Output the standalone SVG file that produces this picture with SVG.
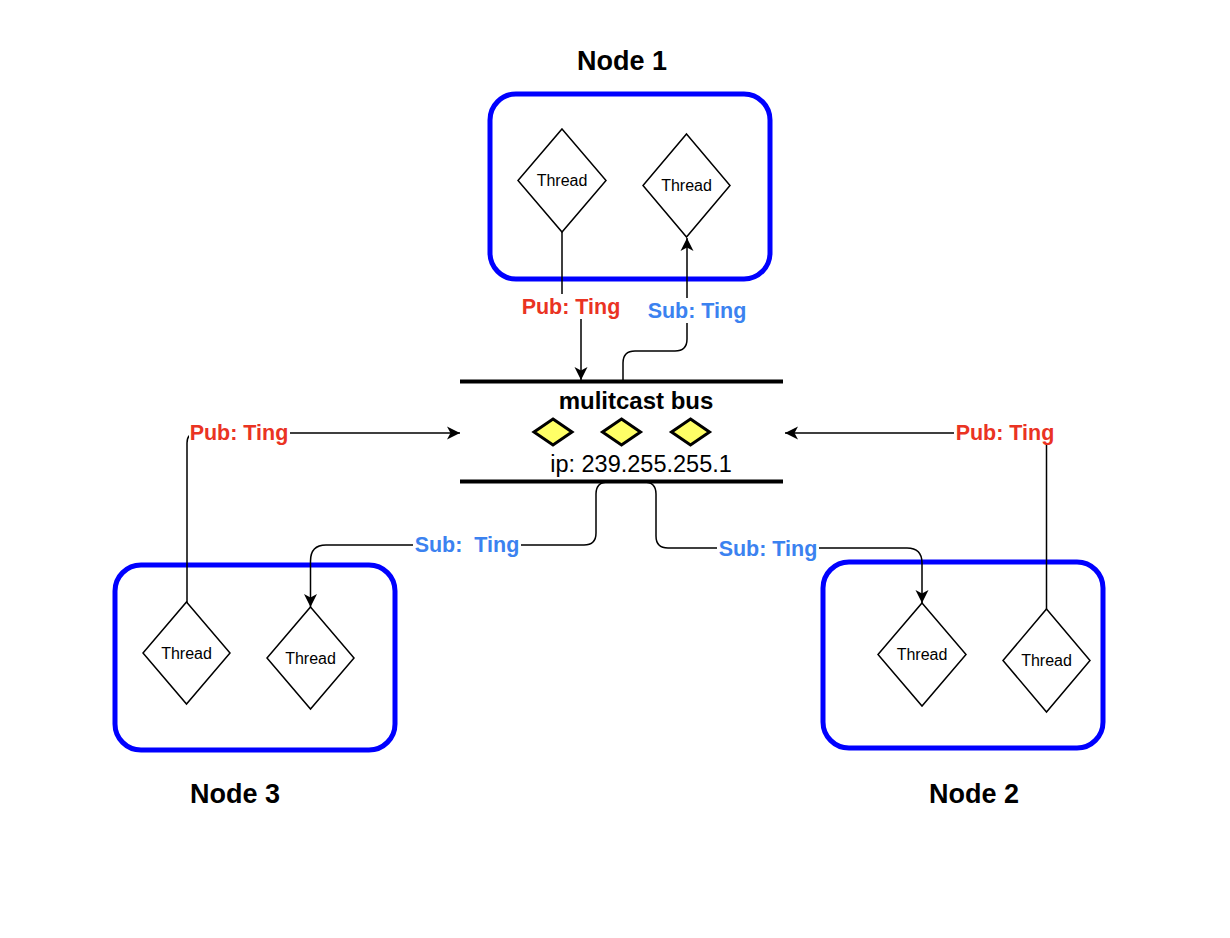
<svg xmlns="http://www.w3.org/2000/svg" width="1230" height="938" viewBox="0 0 1230 938">
<style>
.box{fill:none;stroke:#0000FF;stroke-width:5}
.th{fill:#FFFFFF;stroke:#000;stroke-width:1.5}
.tt{font-family:"Liberation Sans",Arial,sans-serif;font-size:16px;fill:#000;text-anchor:middle}
.title{font-family:"Liberation Sans",Arial,sans-serif;font-size:27px;font-weight:bold;fill:#000;text-anchor:middle}
.edge{fill:none;stroke:#000;stroke-width:1.5}
.lbl{font-family:"Liberation Sans",Arial,sans-serif;font-size:21.5px;font-weight:bold;text-anchor:middle}
.pub{fill:#EA3323}
.sub{fill:#3B82F0}
.bg{fill:#FFFFFF}
.busline{stroke:#000;stroke-width:4}
.pkt{fill:#FFFF66;stroke:#000;stroke-width:3}
</style>
<defs>
<marker id="arr" markerUnits="userSpaceOnUse" viewBox="-14 -8 15 16" refX="0" refY="0" markerWidth="15" markerHeight="16" orient="auto">
<path d="M0,0 L-13,-6.5 L-9.5,0 L-13,6.5 Z" fill="#000"/>
</marker>
</defs>
<rect width="1230" height="938" fill="#FFFFFF"/>

<g id="node1">
<rect class="box" x="490" y="94" width="280" height="185" rx="26"/>
<text class="title" x="622" y="70">Node 1</text>
<g id="node1-thread-a"><polygon class="th" points="562,129 606,180.5 562,232 518,180.5"/><text class="tt" x="562" y="186">Thread</text></g>
<g id="node1-thread-b"><polygon class="th" points="686.5,134 730,185.5 686.5,237 643,185.5"/><text class="tt" x="686.5" y="191">Thread</text></g>
</g>

<g id="node3">
<rect class="box" x="115" y="565" width="280" height="185" rx="26"/>
<text class="title" x="235" y="803">Node 3</text>
<g id="node3-thread-a"><polygon class="th" points="186.5,602 230,653 186.5,704 143,653"/><text class="tt" x="186.5" y="658.5">Thread</text></g>
<g id="node3-thread-b"><polygon class="th" points="310.5,607 354,658 310.5,709 267,658"/><text class="tt" x="310.5" y="663.5">Thread</text></g>
</g>

<g id="node2">
<rect class="box" x="823" y="562" width="280" height="186" rx="26"/>
<text class="title" x="974" y="803">Node 2</text>
<g id="node2-thread-a"><polygon class="th" points="922,603 966,654.5 922,706 878,654.5"/><text class="tt" x="922" y="660">Thread</text></g>
<g id="node2-thread-b"><polygon class="th" points="1046.5,609 1090,660.5 1046.5,712 1003,660.5"/><text class="tt" x="1046.5" y="666">Thread</text></g>
</g>

<g id="bus">
<line class="busline" x1="460" y1="381.5" x2="783" y2="381.5"/>
<line class="busline" x1="460" y1="481.5" x2="783" y2="481.5"/>
<text x="636" y="409" font-family="'Liberation Sans',Arial,sans-serif" font-size="24px" font-weight="bold" text-anchor="middle" fill="#000">mulitcast bus</text>
<polygon class="pkt" points="553,419 572,432 553,445 534,432"/>
<polygon class="pkt" points="621.5,419 640.5,432 621.5,445 602.5,432"/>
<polygon class="pkt" points="690.5,419 709.5,432 690.5,445 671.5,432"/>
<text x="641" y="472" font-family="'Liberation Sans',Arial,sans-serif" font-size="23.5px" text-anchor="middle" fill="#000">ip: 239.255.255.1</text>
</g>

<g id="connectors">
<path class="edge" d="M562,232 V306 H581 V380" marker-end="url(#arr)"/>
<path class="edge" d="M623,380 V363 Q623,351 635,351 H675 Q687,351 687,339 V238" marker-end="url(#arr)"/>
<path class="edge" d="M187,603 V443 Q187,433 197,433 H460" marker-end="url(#arr)"/>
<path class="edge" d="M1046.5,609 V443 Q1046.5,433 1036.5,433 H785" marker-end="url(#arr)"/>
<path class="edge" d="M622,482 H608 Q596,482 596,494 V533 Q596,545 584,545 H326 Q310.5,545 310.5,561 V607" marker-end="url(#arr)"/>
<path class="edge" d="M622,482 H644 Q656,482 656,494 V536 Q656,548 668,548 H907 Q922,548 922,563 V603" marker-end="url(#arr)"/>
</g>

<g id="labels">
<g id="lbl-pub-node1"><rect class="bg" x="519" y="294" width="104" height="25"/><text class="lbl pub" x="571" y="314">Pub: Ting</text></g>
<g id="lbl-sub-node1"><rect class="bg" x="645" y="298" width="104" height="25"/><text class="lbl sub" x="697" y="318">Sub: Ting</text></g>
<g id="lbl-pub-node3"><rect class="bg" x="189" y="420" width="101" height="25"/><text class="lbl pub" x="239" y="440">Pub: Ting</text></g>
<g id="lbl-pub-node2"><rect class="bg" x="954" y="420" width="102" height="25"/><text class="lbl pub" x="1005" y="440">Pub: Ting</text></g>
<g id="lbl-sub-node3"><rect class="bg" x="413" y="532" width="108" height="25"/><text class="lbl sub" x="467" y="552" xml:space="preserve">Sub:  Ting</text></g>
<g id="lbl-sub-node2"><rect class="bg" x="717" y="536" width="102" height="25"/><text class="lbl sub" x="768" y="556">Sub: Ting</text></g>
</g>
</svg>
